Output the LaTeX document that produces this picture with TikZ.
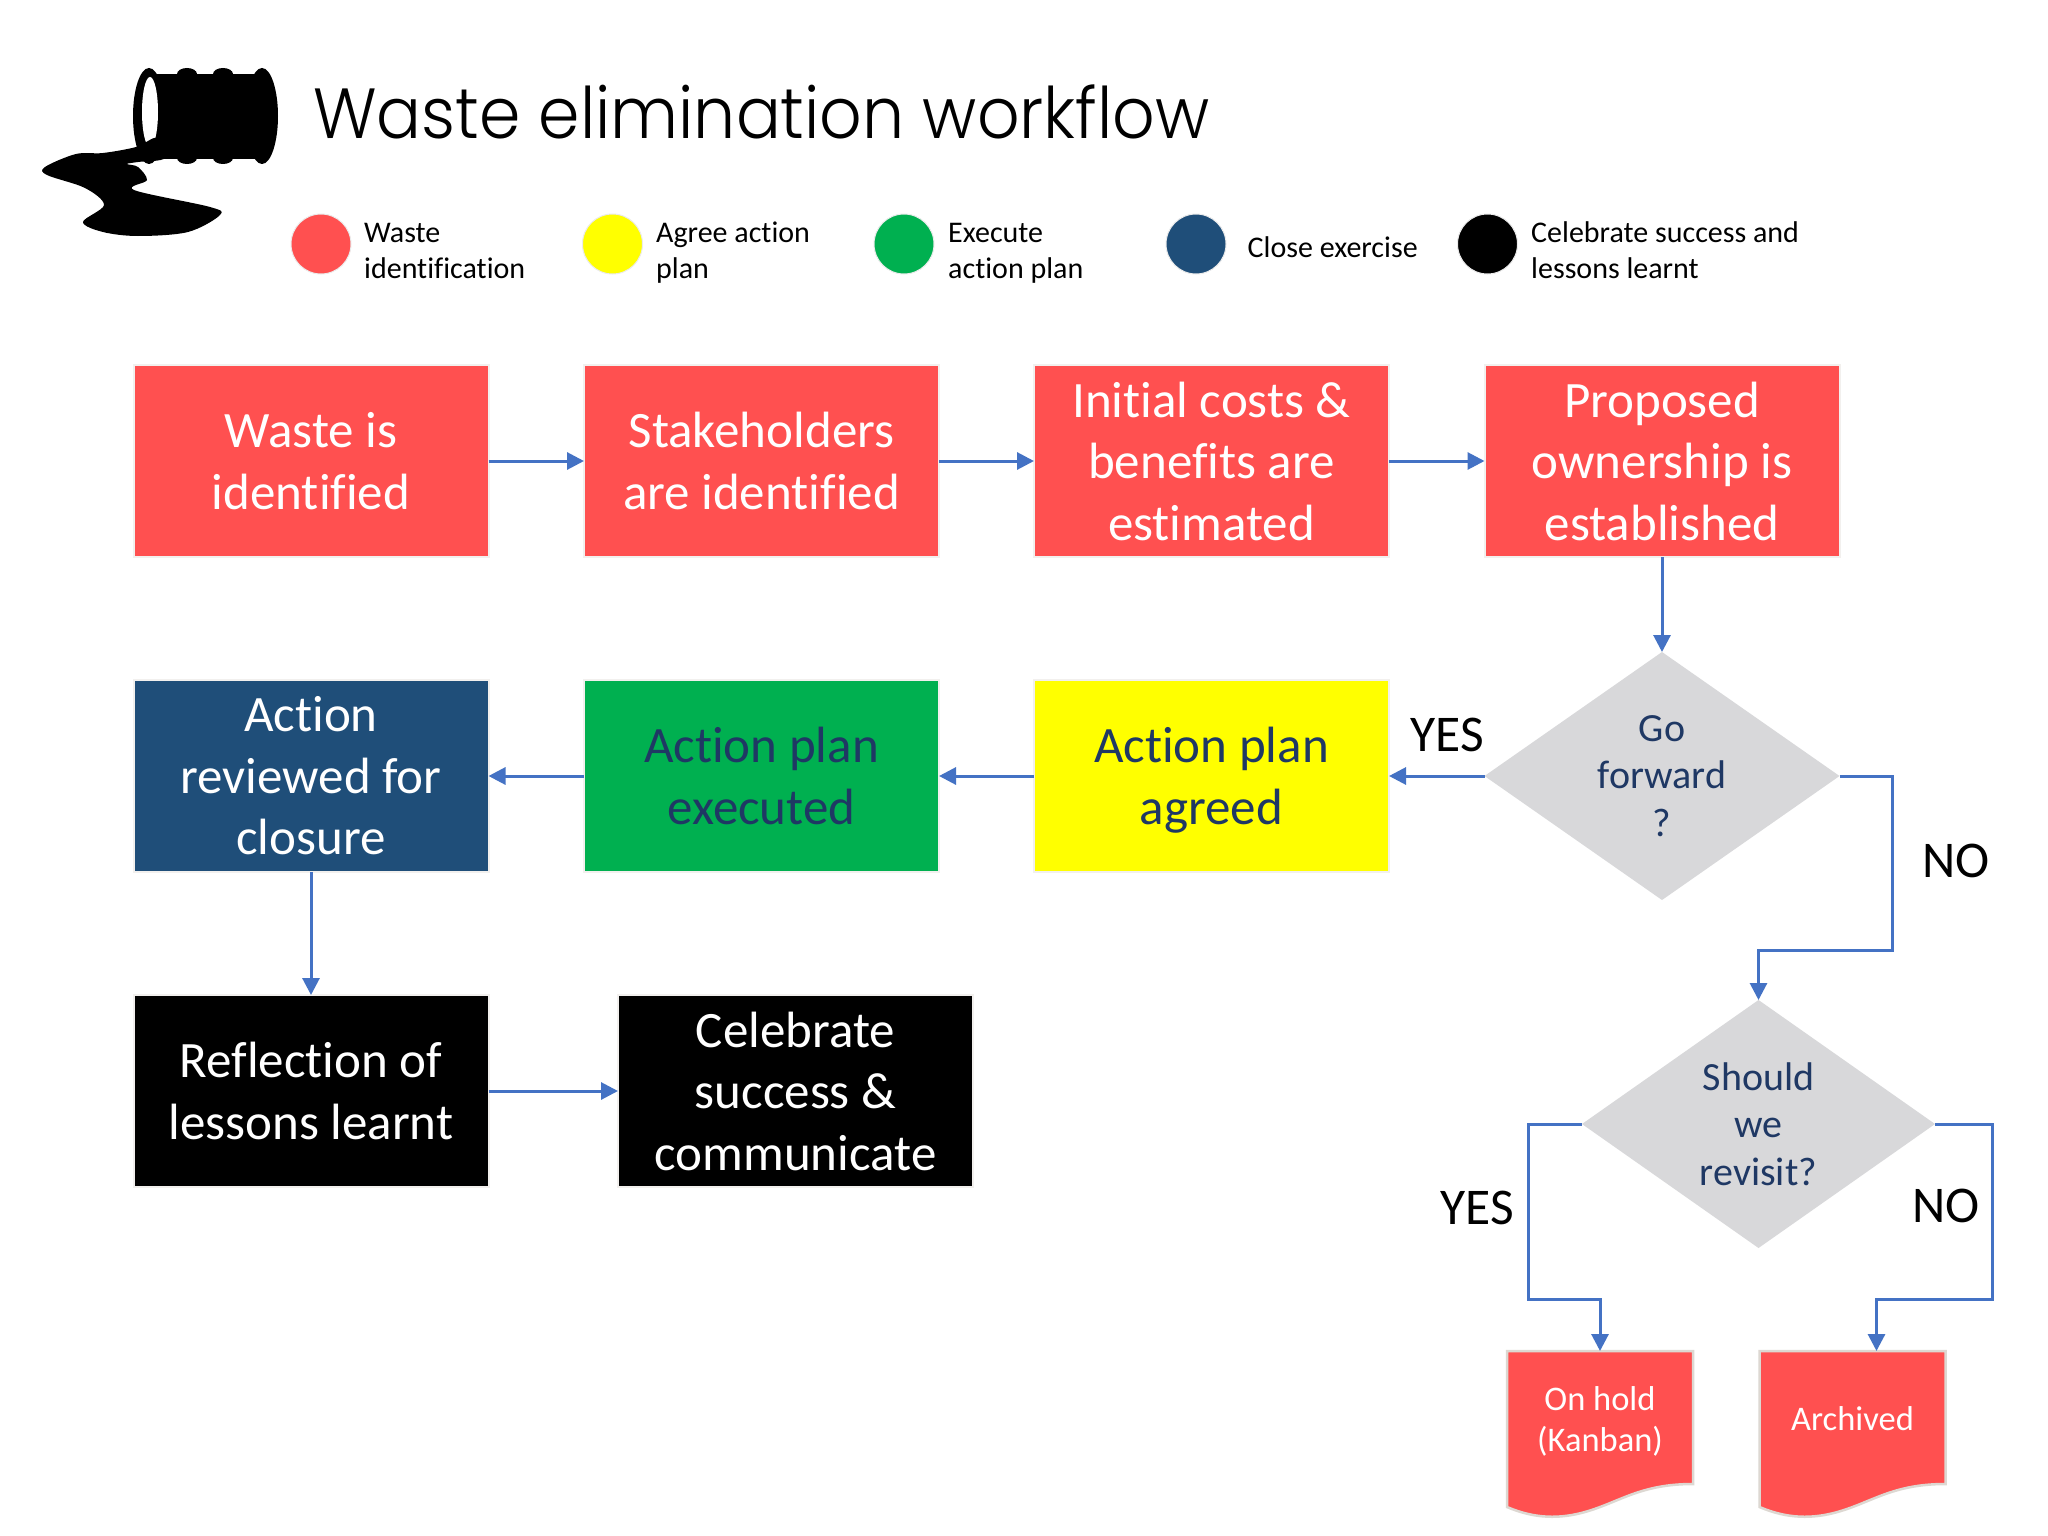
\documentclass[tikz,border=0pt]{standalone}
\usepackage{fontspec}
\setmainfont{Carlito}[Ligatures=NoCommon]
\newfontfamily\ttlfont{Poppins Light}
\usetikzlibrary{shapes.geometric,arrows.meta,calc,backgrounds}
\definecolor{wred}{HTML}{FF5050}
\definecolor{wyel}{HTML}{FFFF00}
\definecolor{wgrn}{HTML}{00B050}
\definecolor{wnavy}{HTML}{1F4E79}
\definecolor{wgray}{HTML}{D8D8DA}
\definecolor{wtext}{HTML}{1F3864}
\definecolor{wblue}{HTML}{4472C4}
\definecolor{wedge}{HTML}{F2F0EE}
\definecolor{wdocedge}{HTML}{DDD8D2}
\tikzset{
  box/.style={rectangle,draw=wedge,line width=2pt,inner sep=0pt,outer sep=0pt,minimum width=355pt,minimum height=192pt,align=center,font=\fontsize{51}{61.5}\selectfont,execute at begin node={\rule{0pt}{43pt}}},
  onred/.style={box,fill=wred,text=white},
  onnavy/.style={box,fill=wnavy,text=white},
  onblack/.style={box,fill=black,text=white},
  dec/.style={diamond,aspect=1.42,fill=wgray,inner sep=0pt,outer sep=0pt,align=center,text=wtext,font=\fontsize{40}{47.7}\selectfont},
  doc/.style={rectangle,inner sep=0pt,outer sep=0pt,minimum width=186pt,minimum height=136pt,align=center,text=white,font=\fontsize{34.5}{41}\selectfont},
  docbg/.style={fill=wred,draw=wdocedge,line width=2.5pt},
  conn/.style={draw=wblue,line width=3pt,-{Triangle[length=17pt,width=17pt]}},
  dot/.style={circle,minimum size=60pt,inner sep=0pt,draw=white!92!black,line width=1pt},
  leg/.style={anchor=west,inner sep=0pt,align=left,font=\fontsize{30}{36}\selectfont},
  ans/.style={inner sep=0pt,font=\fontsize{51.5}{55}\selectfont}
}
\begin{document}
\begin{tikzpicture}[x=1pt,y=-1pt]
\useasboundingbox (0,0) rectangle (2048,1536);
\begin{scope}[on background layer]
\fill[white] (0,0) rectangle (2048,1536);
\end{scope}
% barrel icon
\fill[black] (149,74) rectangle (262,159);
\fill[black] (149,116) ellipse [x radius=16,y radius=48];
\fill[black] (262,116) ellipse [x radius=16,y radius=48];
\fill[black] (187,74) ellipse [x radius=10,y radius=6];
\fill[black] (223,74) ellipse [x radius=10,y radius=6];
\fill[black] (187,158) ellipse [x radius=10,y radius=6];
\fill[black] (223,158) ellipse [x radius=10,y radius=6];
\fill[white] (150,112) ellipse [x radius=8,y radius=35];
\fill[black] plot[smooth cycle,tension=.55] coordinates {(157,138) (136,147) (103,153) (76,154) (45,167) (47,175) (85,188) (104,205) (83,222) (103,232) (138,236) (188,232) (220,215) (210,207) (134,190) (147,180) (138,167) (127,164) (138,162) (165,158)};
% title
\node[anchor=base west,inner sep=0pt] (title) at (313,138.5) {\scalebox{.937}[1]{\ttlfont\fontsize{71}{84}\selectfont Waste elimination workflow}};
% legend
\node[dot,fill=wred]  (l1) at (321,244) {};
\node[dot,fill=wyel]  (l2) at (612.5,244) {};
\node[dot,fill=wgrn]  (l3) at (904,244) {};
\node[dot,fill=wnavy] (l4) at (1196,244) {};
\node[dot,fill=black] (l5) at (1487.5,244) {};
\node[leg] (t1) at (364,250.5) {Waste\\identification};
\node[leg] (t2) at (656,250.5) {Agree action\\\smash{plan}};
\node[leg] (t3) at (948,250.5) {Execute\\\smash{action plan}};
\node[leg] (t4) at (1247.5,247) {Close exercise};
\node[leg] (t5) at (1531,250.5) {Celebrate success and\\lessons learnt};
% row 1
\node[onred] (b1) at (311,461) {Waste is\\identified};
\node[onred] (b2) at (761.5,461) {Stakeholders\\are identified};
\node[onred] (b3) at (1211.5,461) {Initial costs \&\\benefits are\\estimated};
\node[onred] (b4) at (1662,461) {Proposed\\ownership is\\established};
% row 2
\node[onnavy] (b5) at (311,776) {Action\\reviewed for\\closure};
\node[box,fill=wgrn,text=wtext] (b6) at (761.5,776) {Action plan\\executed};
\node[box,fill=wyel,text=wtext] (b7) at (1211.5,776) {Action plan\\\smash{agreed}};
% row 3
\node[onblack] (b8) at (311,1091) {Reflection of\\lessons learnt};
\node[onblack] (b9) at (795.5,1091) {Celebrate\\success \&\\communicate};
% decisions
\node[dec,minimum width=355pt,minimum height=248pt] (d1) at (1662,776) {Go\\forward\\?};
\node[dec,minimum width=353pt,minimum height=248pt] (d2) at (1758.5,1124) {Should\\we\\revisit?};
% documents
\node[doc] (h1) at (1600,1419) {On hold\\\smash{(Kanban)}};
\node[doc] (h2) at (1852.5,1419) {Archived};
\begin{scope}[on background layer]
\path[docbg] (h1.north west) -- (h1.north east)
  -- ($(h1.south east)+(0,-3)$) .. controls ($(h1.south east)+(-53,-3)$) and ($(h1.south east)+(-73,15)$) .. ($(h1.south east)+(-108,25)$)
  .. controls ($(h1.south east)+(-133,32)$) and ($(h1.south east)+(-158,32)$) .. ($(h1.south west)+(0,20)$) -- cycle;
\path[docbg] (h2.north west) -- (h2.north east)
  -- ($(h2.south east)+(0,-3)$) .. controls ($(h2.south east)+(-53,-3)$) and ($(h2.south east)+(-73,15)$) .. ($(h2.south east)+(-108,25)$)
  .. controls ($(h2.south east)+(-133,32)$) and ($(h2.south east)+(-158,32)$) .. ($(h2.south west)+(0,20)$) -- cycle;
\end{scope}
% connector waypoints
\coordinate (n1) at (1892,950);
\coordinate (y2) at (1528,1299);
\coordinate (n2) at (1992,1299);
% connectors
\draw[conn] (b1.east) -- (b2.west);
\draw[conn] (b2.east) -- (b3.west);
\draw[conn] (b3.east) -- (b4.west);
\draw[conn] (b4.south) -- (d1.north);
\draw[conn] (d1.west) -- (b7.east);
\draw[conn] (b7.west) -- (b6.east);
\draw[conn] (b6.west) -- (b5.east);
\draw[conn] (b5.south) -- (b8.north);
\draw[conn] (b8.east) -- (b9.west);
\draw[conn] (d1.east) -| (n1) -| (d2.north);
\draw[conn] (d2.west) -| (y2) -| (h1.north);
\draw[conn] (d2.east) -| (n2) -| ([xshift=24pt]h2.north);
% answers
\node[ans] (a1) at (1447,735) {YES};
\node[ans] (a2) at (1956,861) {NO};
\node[ans] (a3) at (1477,1208) {YES};
\node[ans] (a4) at (1946,1206) {NO};
\end{tikzpicture}
\end{document}
